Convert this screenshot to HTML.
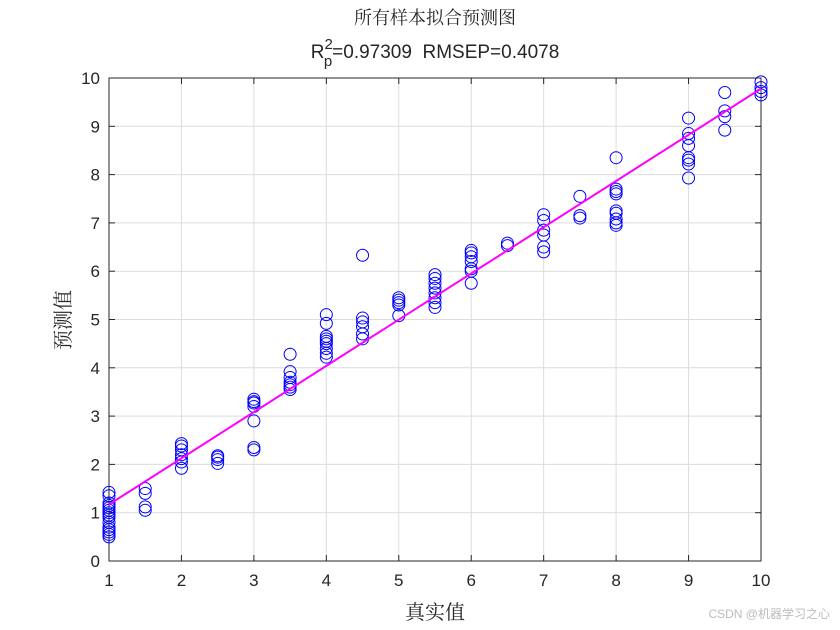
<!DOCTYPE html>
<html><head><meta charset="utf-8"><style>
body{margin:0;background:#fff;width:840px;height:630px;overflow:hidden}
svg{display:block}
text{font-family:"Liberation Sans","Noto Sans CJK SC",sans-serif;fill:#262626}
.cj{font-family:"Liberation Serif","Noto Serif CJK SC",serif}
</style></head><body>
<svg id="c" width="840" height="630"></svg>
<script>
const xs=[1,1.5,2,2.5,3,3.5,4,4.5,5,5.5,6,6.5,7,7.5,8,9,9.5,10];
const ys=[
[0.5,0.55,0.6,0.65,0.7,0.8,0.9,0.95,1.0,1.05,1.1,1.15,1.2,1.35,1.42],
[1.05,1.12,1.4,1.5],
[1.92,2.05,2.12,2.2,2.3,2.38,2.43],
[2.02,2.1,2.15,2.18],
[2.3,2.35,2.9,3.2,3.27,3.3,3.35],
[3.55,3.6,3.65,3.7,3.8,3.92,4.28],
[4.22,4.3,4.4,4.5,4.55,4.6,4.65,4.92,5.1],
[4.6,4.7,4.85,4.95,5.03,6.33],
[5.08,5.3,5.35,5.4,5.45],
[5.25,5.35,5.45,5.55,5.65,5.75,5.85,5.93],
[5.75,6.0,6.05,6.2,6.3,6.38,6.43],
[6.53,6.58],
[6.4,6.5,6.75,6.85,7.05,7.17],
[7.1,7.15,7.55],
[6.95,7.0,7.08,7.2,7.25,7.6,7.65,7.7,8.35],
[7.93,8.22,8.3,8.35,8.6,8.75,8.85,9.17],
[8.92,9.2,9.32,9.7],
[9.65,9.72,9.8,9.92]];
const fitX=[1,10];
const fitY=[1.17,9.78];
const xTicks=[1,2,3,4,5,6,7,8,9,10];
const yTicks=[0,1,2,3,4,5,6,7,8,9,10];
const L=109,R=761,T=78,B=561;
const sx=v=>L+(v-1)/9*(R-L), sy=v=>B-v/10*(B-T);
const svg=document.getElementById('c');
const NS='http://www.w3.org/2000/svg';
function mk(t,a,p){const e=document.createElementNS(NS,t);for(const k in a)e.setAttribute(k,a[k]);(p||svg).appendChild(e);return e;}
let e=mk('rect',{x:L,y:T,width:R-L,height:B-T,fill:'#fff'});


xTicks.forEach(v=>{const x=sx(v);
 let g=mk('line',{x1:x,x2:x,y1:T,y2:B,stroke:'#dcdcdc','stroke-width':1});
 
 
 mk('line',{x1:x,x2:x,y1:B,y2:B-6,stroke:'#262626'});mk('line',{x1:x,x2:x,y1:T,y2:T+6,stroke:'#262626'});
 let t=mk('text',{x:x,y:B+25,'text-anchor':'middle','font-size':17});t.textContent=v;
 
 });
yTicks.forEach(v=>{const y=sy(v);
 let g=mk('line',{x1:L,x2:R,y1:y,y2:y,stroke:'#dcdcdc','stroke-width':1});
 
 
 mk('line',{x1:L,x2:L+6,y1:y,y2:y,stroke:'#262626'});mk('line',{x1:R,x2:R-6,y1:y,y2:y,stroke:'#262626'});
 let t=mk('text',{x:L-9,y:y+6,'text-anchor':'end','font-size':17});t.textContent=v;
 
 });
e=mk('rect',{x:L,y:T,width:R-L,height:B-T,fill:'none',stroke:'#262626','stroke-width':1});


xs.forEach((x,i)=>ys[i].forEach(y=>{
 let c=mk('circle',{cx:sx(x),cy:sy(y),r:6,fill:'none',stroke:'#0000ff','stroke-width':1});
 
 }));
e=mk('line',{x1:sx(fitX[0]),y1:sy(fitY[0]),x2:sx(fitX[1]),y2:sy(fitY[1]),stroke:'#ff00ff','stroke-width':2});


e=mk('text',{x:435,y:24,'text-anchor':'middle','font-size':18,'class':'cj'});e.textContent='所有样本拟合预测图';


e=mk('text',{x:435,y:58,'text-anchor':'middle','font-size':19});
e.style.whiteSpace='pre';
e.innerHTML='R<tspan dy="-9" font-size="15">2</tspan><tspan dx="-9" dy="17" font-size="15">p</tspan><tspan dy="-8">=0.97309  RMSEP=0.4078</tspan>';


e=mk('text',{x:435,y:619,'text-anchor':'middle','font-size':20,'class':'cj'});e.textContent='真实值';


e=mk('text',{x:0,y:0,'text-anchor':'middle','font-size':20,'class':'cj',transform:'translate(70,320) rotate(-90)'});e.textContent='预测值';


e=mk('text',{x:830,y:618,'text-anchor':'end','font-size':12});e.textContent='CSDN @机器学习之心';
e.style.fill='#bbb';


</script>
</body></html>
